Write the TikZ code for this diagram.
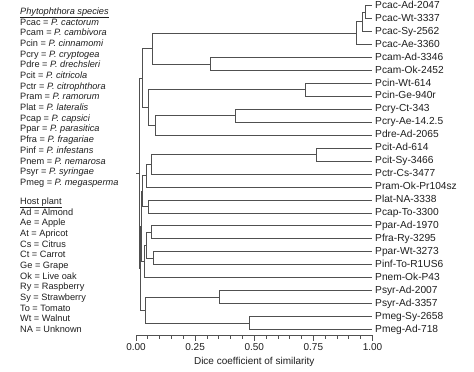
\documentclass[tikz,border=0pt]{standalone}
\usepackage{fontspec}
\setmainfont{Liberation Sans}
\usetikzlibrary{calc}
\definecolor{linegray}{HTML}{505050}
\definecolor{txtgray}{HTML}{1E1E1E}
\begin{document}
\begin{tikzpicture}[x=1pt,y=-1pt,
  br/.style={draw=linegray, line width=0.8pt},
  leaf/.style={anchor=mid west, inner sep=0pt, font=\fontsize{10.2}{12}\selectfont, text=txtgray},
  leg/.style={anchor=mid west, inner sep=0pt, font=\fontsize{9.2}{11}\selectfont, text=txtgray},
  ticklab/.style={anchor=mid, inner sep=0pt, font=\fontsize{10}{12}\selectfont, text=txtgray}]
\useasboundingbox (0,0) rectangle (474,372);
% leaves
\foreach \n [count=\i from 0] in {Pcac-Ad-2047,Pcac-Wt-3337,Pcac-Sy-2562,Pcac-Ae-3360,Pcam-Ad-3346,Pcam-Ok-2452,Pcin-Wt-614,Pcin-Ge-940r,Pcry-Ct-343,Pcry-Ae-14.2.5,Pdre-Ad-2065,Pcit-Ad-614,Pcit-Sy-3466,Pctr-Cs-3477,Pram-Ok-Pr104sz,Plat-NA-3338,Pcap-To-3300,Ppar-Ad-1970,Pfra-Ry-3295,Ppar-Wt-3273,Pinf-To-R1US6,Pnem-Ok-P43,Psyr-Ad-2007,Psyr-Ad-3357,Pmeg-Sy-2658,Pmeg-Ad-718}{
  \pgfmathsetmacro\yy{5.7+12.95*\i}
  \coordinate (l\i) at (372,\yy);
  \node[leaf] (t\i) at (375,\yy) {\n};
}
% internal nodes
\coordinate (A) at (365.5,12.18);
\coordinate (B) at (362.7,21.89);
\coordinate (C) at (356,33.22);
\coordinate (Pcam) at (210.7,63.98);
\coordinate (D) at (152.3,48.6);
\coordinate (Pcin) at (305.5,89.88);
\coordinate (Pcry) at (235,115.78);
\coordinate (F) at (155,125.49);
\coordinate (E) at (148.3,107.68);
\coordinate (G) at (142.3,78.14);
\coordinate (Pcit) at (316.7,154.63);
\coordinate (H) at (151.7,164.34);
\coordinate (I) at (146.7,175.67);
\coordinate (J) at (148.3,206.43);
\coordinate (K) at (142.5,191.05);
\coordinate (PF) at (151,232.33);
\coordinate (PI) at (153.3,258.23);
\coordinate (M) at (146.3,245.28);
\coordinate (M2) at (144.3,261.46);
\coordinate (KM) at (141.5,226.26);
\coordinate (Psyr) at (219.3,297.08);
\coordinate (Pmeg) at (249.3,322.98);
\coordinate (N) at (145.7,310.03);
\coordinate (S) at (140.4,268.14);
\coordinate (R) at (139.3,173.14);
\coordinate (r0) at (136,173.14);
% brackets
\foreach \p/\c in {A/l0,A/l1,B/A,B/l2,C/B,C/l3,Pcam/l4,Pcam/l5,D/C,D/Pcam,
  Pcin/l6,Pcin/l7,Pcry/l8,Pcry/l9,F/Pcry,F/l10,E/Pcin,E/F,G/D,G/E,
  Pcit/l11,Pcit/l12,H/Pcit,H/l13,I/H,I/l14,J/l15,J/l16,K/I,K/J,
  PF/l17,PF/l18,PI/l19,PI/l20,M/PF,M/PI,M2/M,M2/l21,KM/K,KM/M2,
  Psyr/l22,Psyr/l23,Pmeg/l24,Pmeg/l25,N/Psyr,N/Pmeg,S/KM,S/N,R/G,R/S}{
  \draw[br] (\p) |- (\c);
}
\draw[br] (r0) -- (R);
% axis
\coordinate (ax0) at (136,335);
\coordinate (ax1) at (372.5,335);
\draw[br] (ax0) -- (ax1);
\foreach \k in {0,...,20}{
  \draw[br] ($(ax0)+(11.825*\k,0)$) -- ++(0,3.5);
}
\foreach \k in {0,5,...,20}{
  \draw[br] ($(ax0)+(11.825*\k,0)$) -- ++(0,5.5);
}
\foreach \v [count=\k from 0] in {0.00,0.25,0.50,0.75,1.00}{
  \node[ticklab] (tl\k) at (136+59.125*\k,347.5) {\v};
}
\node[ticklab] (axt) at (254.25,362) {Dice coefficient of similarity};
% legend
\node[leg] (sh) at (20,11.7) {\underline{\textit{Phytophthora species}}};
\foreach \a/\b [count=\k] in {Pcac/cactorum,Pcam/cambivora,Pcin/cinnamomi,Pcry/cryptogea,Pdre/drechsleri,Pcit/citricola,Pctr/citrophthora,Pram/ramorum,Plat/lateralis,Pcap/capsici,Ppar/parasitica,Pfra/fragariae,Pinf/infestans,Pnem/nemarosa,Psyr/syringae,Pmeg/megasperma}{
  \node[leg] (sp\k) at (20,11.7+10.69*\k) {\a{} = \textit{P. \b}};
}
\node[leg] (hh) at (20,201.7) {\underline{Host plant}};
\foreach \a/\b [count=\k] in {Ad/Almond,Ae/Apple,At/Apricot,Cs/Citrus,Ct/Carrot,Ge/Grape,Ok/Live oak,Ry/Raspberry,Sy/Strawberry,To/Tomato,Wt/Walnut,NA/Unknown}{
  \node[leg] (hp\k) at (20,201.7+10.69*\k) {\a{} = \b};
}
\end{tikzpicture}
\end{document}
